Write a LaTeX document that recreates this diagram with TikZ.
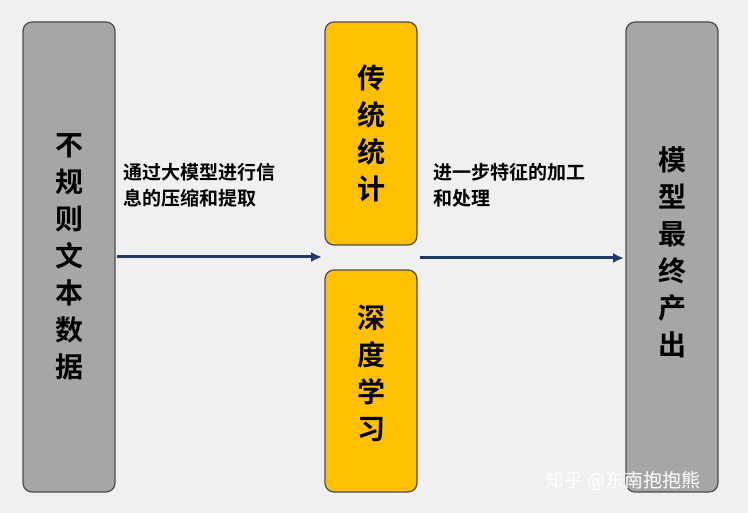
\documentclass[tikz,border=0pt]{standalone}
\usepackage{fontspec}
\newfontfamily\cjk{Noto Sans CJK SC}[BoldFont={Noto Sans CJK SC Bold}]
\begin{document}
\begin{tikzpicture}[x=1pt,y=-1pt,
  col/.style={draw=black!70,line width=1.2pt,rounded corners=9pt},
  big/.style={font=\cjk\bfseries\fontsize{28}{37}\selectfont,align=center,text width=40pt},
  lab/.style={font=\cjk\bfseries\fontsize{19}{26}\selectfont,align=left,anchor=north west,inner sep=0pt},
  arr/.style={draw=blue!30!black!90,line width=3pt,-{Latex[length=11pt,width=10pt]}}]
\usetikzlibrary{arrows.meta}
\fill[black!6] (0,0) rectangle (748,513);
\useasboundingbox (0,0) rectangle (748,513);
\definecolor{navy}{HTML}{1F3864}
\draw[col,fill=black!35] (23,22) rectangle (115,492);
\node[big] (a) at (69,257) {不\\规\\则\\文\\本\\数\\据};
\draw[col,fill={rgb,255:red,255;green,192;blue,0}] (325,22) rectangle (417,245);
\node[big] (b) at (371,133) {传\\统\\统\\计};
\draw[col,fill={rgb,255:red,255;green,192;blue,0}] (325,270) rectangle (417,492);
\node[big] (c) at (371,373) {深\\度\\学\\习};
\draw[col,fill=black!35] (626,22) rectangle (718,492);
\node[big] (d) at (672,252) {模\\型\\最\\终\\产\\出};
\coordinate (a1) at (117,257); \coordinate (a2) at (322,257);
\coordinate (b1) at (420,258); \coordinate (b2) at (624,258);
\draw[arr,draw=navy] (a1) -- (a2);
\draw[arr,draw=navy] (b1) -- (b2);
\node[lab] (l1) at (123,163) {通过大模型进行信\\息的压缩和提取};
\node[lab] (l2) at (433,163) {进一步特征的加工\\和处理};
\node[font=\cjk\fontsize{19}{22}\selectfont,text=white,anchor=west,inner sep=0pt] (w) at (545,481) {知乎 @东南抱抱熊};
\end{tikzpicture}
\end{document}
